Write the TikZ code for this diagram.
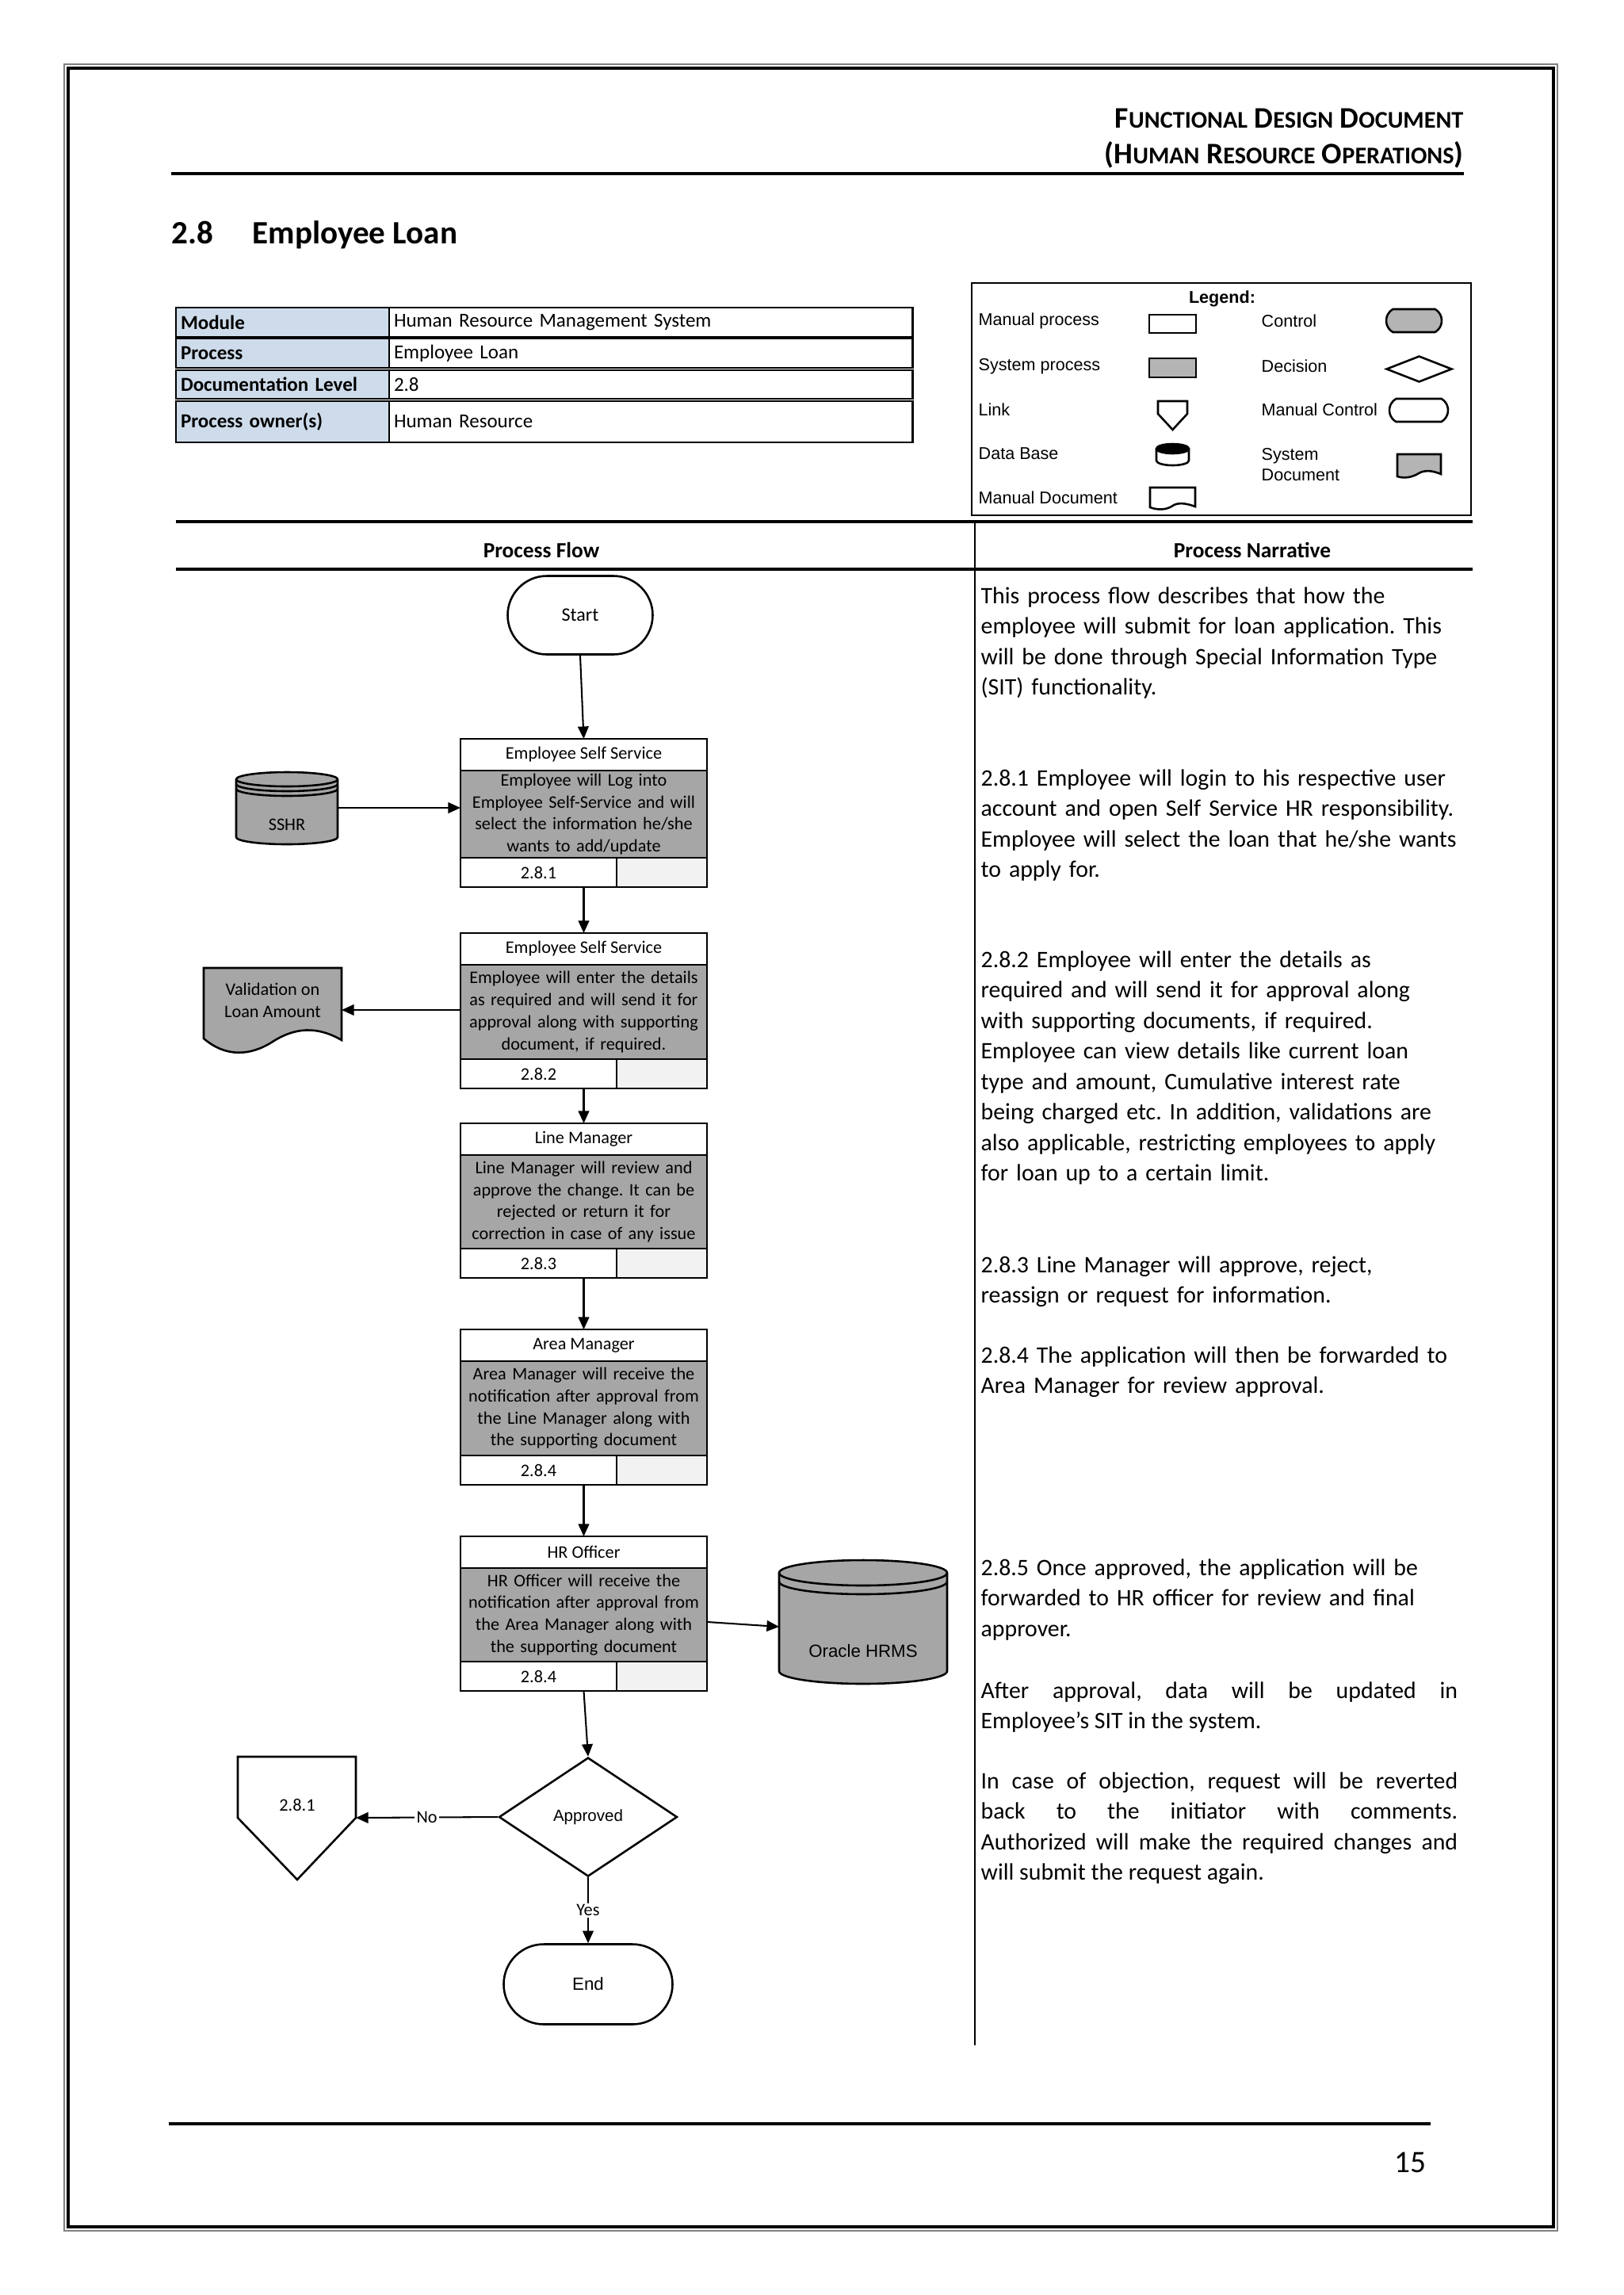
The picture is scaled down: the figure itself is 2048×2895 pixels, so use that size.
\documentclass[tikz,border=0pt]{standalone}
\usepackage{fontspec}
\setmainfont{Carlito}
\newfontfamily\arial{Liberation Sans}
\usetikzlibrary{arrows.meta,shapes.geometric,shapes.misc,calc}
\frenchspacing
\def\U{0.10259mm}
\newcommand\fsz[2]{\fontsize{#1}{#2}\selectfont}
\newcommand\smcx[1]{{\fontsize{8.8}{10}\selectfont #1}}
\definecolor{sysgray}{RGB}{166,166,166}
\definecolor{lightcell}{RGB}{242,242,242}
\definecolor{tblue}{RGB}{206,219,234}
\definecolor{leggray}{RGB}{180,180,180}
\tikzset{
  bx/.style={draw, line width=0.75pt, inner sep=0pt, outer sep=0pt, anchor=north west},
  phdr/.style={bx, fill=white, minimum width=311*\U, minimum height=40*\U, font=\fsz{6.5}{8}},
  pbody/.style={bx, fill=sysgray, minimum width=311*\U, text width=30.8mm, align=center, font=\fsz{6.5}{8.1}},
  pfootl/.style={bx, fill=white, minimum width=197*\U, minimum height=37*\U, font=\fsz{6.5}{8}},
  pfootr/.style={bx, fill=lightcell, minimum width=114*\U, minimum height=37*\U},
  arr/.style={line width=0.6pt, -{Triangle[length=1.6mm,width=1.4mm]}},
  conn/.style={line width=0.6pt},
  narr/.style={anchor=base west, inner sep=0pt, font=\fsz{8.7}{11.25}, text width=66mm, align=left},
  narrj/.style={anchor=base west, inner sep=0pt, font=\fsz{8.7}{11.25}, text width=61.7mm, align=justify},
  legtxt/.style={anchor=west, inner sep=0pt, font=\arial\fsz{6.3}{7.6}, align=left},
  tlab/.style={bx, fill=tblue, minimum width=269*\U, text width=26.4mm, align=left, inner xsep=6*\U, font=\bfseries\fsz{7.3}{8.5}},
  tval/.style={bx, fill=white, minimum width=660*\U, text width=66.5mm, align=left, inner xsep=6*\U, font=\fsz{7.3}{8.5}},
  term/.style={draw, line width=0.75pt, rounded rectangle, inner sep=0pt},
  plain/.style={inner sep=0pt, align=center},
  shp/.style={draw, line width=0.75pt},
}
\newcommand\pbox[7]{%
  \node[phdr] (#1h) at (581,#2) {#4};
  \node[pbody, minimum height=#3*\U] (#1b) at (#1h.south west) {#5};
  \node[pfootl] (#1f) at (#1b.south west) {#6};
  \node[pfootr] (#1g) at (#1f.north east) {};
}
\begin{document}
\begin{tikzpicture}[x=0.10259mm, y=-0.10259mm]
\useasboundingbox (0,0) rectangle (2048,2895);
\fill[white] (0,0) rectangle (2048,2895);

% page border
\draw[gray, line width=0.5pt] (81,81) rectangle (1965,2814);
\draw[line width=1pt] (86,86) rectangle (1960,2809);

% header
\node[anchor=base east, inner sep=0pt, font=\bfseries\fsz{11}{13}] (hd1) at (1847,161) {F\smcx{UNCTIONAL} D\smcx{ESIGN} D\smcx{OCUMENT}};
\node[anchor=base east, inner sep=0pt, font=\bfseries\fsz{11}{13}] (hd2) at (1847,206) {(H\smcx{UMAN} R\smcx{ESOURCE} O\smcx{PERATIONS})};
\draw[line width=1.45pt] (216,219) -- (1847,219);

% section title
\node[anchor=base west, inner sep=0pt, font=\bfseries\fsz{12}{14}] (secnum) at (216,307) {2.8};
\node[anchor=base west, inner sep=0pt, font=\bfseries\fsz{12}{14}] (sectitle) at (318,307) {Employee Loan};

% info table
\node[tlab, minimum height=37*\U] (t1l) at (222,388) {Module};
\node[tval, minimum height=37*\U] (t1r) at (491,388) {Human Resource Management System};
\node[tlab, minimum height=37*\U] (t2l) at (222,427) {Process};
\node[tval, minimum height=37*\U] (t2r) at (491,427) {Employee Loan};
\node[tlab, minimum height=36*\U] (t3l) at (222,467) {Documentation Level};
\node[tval, minimum height=36*\U] (t3r) at (491,467) {2.8};
\node[tlab, minimum height=52*\U] (t4l) at (222,506) {Process owner(s)};
\node[tval, minimum height=52*\U] (t4r) at (491,506) {Human Resource};

% legend
\draw[line width=0.8pt] (1226,357) rectangle (1856,650);
\node[plain, font=\arial\bfseries\fsz{6.3}{7.6}] (legt) at (1542,377) {Legend:};
\node[legtxt] (l1) at (1234,405) {Manual process};
\node[legtxt] (l2) at (1234,462) {System process};
\node[legtxt] (l3) at (1234,517) {Link};
\node[legtxt] (l4) at (1234,572) {Data Base};
\node[legtxt] (l5) at (1234,628) {Manual Document};
\node[legtxt] (r1) at (1591,405) {Control};
\node[legtxt] (r2) at (1591,462) {Decision};
\node[legtxt] (r3) at (1591,517) {Manual Control};
\node[legtxt] (r4) at (1591,586) {System\\Document};
\node[shp, inner sep=0pt, minimum width=59*\U, minimum height=23*\U] (lmp) at (1479.5,408.5) {};
\node[shp, fill=leggray, inner sep=0pt, minimum width=59*\U, minimum height=24*\U] (lsp) at (1479.5,464) {};
\draw[shp, line join=miter] (1461,506) -- (1498,506) -- (1498,522) -- (1479.5,542) -- (1461,522) -- cycle;
\draw[shp] (1459,566) -- (1459,581) arc[start angle=180, end angle=0, x radius=20.5, y radius=6] -- (1500,566);
\filldraw[line width=0.75pt, fill=black] (1479.5,566) ellipse [x radius=20.5, y radius=6];
\draw[shp, fill=white] (1451,615) -- (1508,615) -- (1508,639) .. controls (1495,634) and (1485,634) .. (1479.5,638) .. controls (1472,643) and (1462,644) .. (1451,640) -- cycle;
\node[term, fill=leggray, rounded rectangle arc length=120, minimum width=70*\U, minimum height=29*\U] (lctl) at (1784,404.5) {};
\node[draw, line width=0.75pt, diamond, inner sep=0pt, minimum width=83*\U, minimum height=33*\U] (ldec) at (1790.5,465.5) {};
\node[term, rounded rectangle arc length=120, minimum width=74*\U, minimum height=29*\U] (lmc) at (1790,517.5) {};
\draw[shp, fill=leggray] (1763,573) -- (1818,573) -- (1818,598) .. controls (1806,593) and (1797,593) .. (1790,597) .. controls (1782,602) and (1772,604) .. (1763,601) -- cycle;

% column header rules
\draw[line width=1.1pt] (222,658) -- (1858,658);
\draw[line width=1.1pt] (222,718) -- (1858,718);
\draw[line width=0.8pt] (1230,658) -- (1230,2580);
\node[plain, font=\bfseries\fsz{8}{10}] (pfh) at (683,694) {Process Flow};
\node[plain, font=\bfseries\fsz{8}{10}] (pnh) at (1580,694) {Process Narrative};

% flow
\node[term, minimum width=183*\U, minimum height=99*\U, font=\fsz{7}{8}] (st) at (732,776) {Start};

\pbox{ba}{932}{110}{Employee Self Service}{Employee will Log into\\Employee Self-Service and will\\select the information he/she\\wants to add/update}{2.8.1}{}
\pbox{bb}{1177}{119}{Employee Self Service}{Employee will enter the details\\as required and will send it for\\approval along with supporting\\document, if required.}{2.8.2}{}
\pbox{bc}{1417}{118}{Line Manager}{Line Manager will review and\\approve the change. It can be\\rejected or return it for\\correction in case of any issue}{2.8.3}{}
\pbox{bd}{1677}{119}{Area Manager}{Area Manager will receive the\\notification after approval from\\the Line Manager along with\\the supporting document}{2.8.4}{}
\pbox{be}{1938}{118}{HR Officer}{HR Officer will receive the\\notification after approval from\\the Area Manager along with\\the supporting document}{2.8.4}{}

% SSHR database
\filldraw[line width=0.75pt, fill=sysgray] (298,983) -- (298,1056) arc[start angle=180, end angle=0, x radius=64, y radius=9] -- (426,983) arc[start angle=0, end angle=-180, x radius=64, y radius=9] -- cycle;
\draw[line width=0.75pt] (298,983) arc[start angle=180, end angle=0, x radius=64, y radius=9];
\draw[line width=0.75pt] (298,989) arc[start angle=180, end angle=0, x radius=64, y radius=9];
\draw[line width=0.75pt] (298,995) arc[start angle=180, end angle=0, x radius=64, y radius=9];
\node[plain, font=\fsz{6.5}{8}] (sshr) at (362,1040) {SSHR};
\coordinate (sshrE) at (426,1019);

% validation document
\filldraw[line width=0.75pt, fill=sysgray] (257,1221) -- (431,1221) -- (431,1312) .. controls (400,1294) and (372,1296) .. (344,1314) .. controls (316,1332) and (285,1334) .. (257,1310) -- cycle;
\node[plain, font=\fsz{6.5}{8.2}] (val) at (344,1262) {Validation on\\Loan Amount};
\coordinate (valE) at (431,1274);

% Oracle HRMS database
\filldraw[line width=0.75pt, fill=sysgray] (983,1984) -- (983,2108) arc[start angle=180, end angle=0, x radius=106, y radius=16] -- (1195,1984) arc[start angle=0, end angle=-180, x radius=106, y radius=16] -- cycle;
\draw[line width=0.75pt] (983,1984) arc[start angle=180, end angle=0, x radius=106, y radius=16];
\draw[line width=0.75pt] (983,1995) arc[start angle=180, end angle=0, x radius=106, y radius=16];
\node[plain, font=\arial\fsz{6.5}{8}] (ora) at (1089,2083) {Oracle HRMS};
\coordinate (oraW) at (983,2052);

% decision, link, end
\node[draw, line width=0.75pt, diamond, inner sep=0pt, minimum width=225*\U, minimum height=150*\U, font=\arial\fsz{6}{7}] (dec) at (742,2292) {Approved};
\draw[shp, line join=miter] (300,2216) -- (449,2216) -- (449,2293) -- (375,2371) -- (300,2293) -- cycle;
\node[plain, font=\fsz{6.5}{8}] (lnk) at (375,2277) {2.8.1};
\coordinate (lnkE) at (449,2293);
\node[term, minimum width=213*\U, minimum height=101*\U, font=\arial\fsz{6.5}{8}] (en) at (742,2503) {End};

% connectors
\draw[arr] (st.south) -- (bah.north);
\draw[arr] (sshrE) -- (sshrE -| bab.west);
\draw[arr] (bah.center |- baf.south) -- (bbh.north);
\draw[arr] (bbb.west |- valE) -- (valE);
\draw[arr] (bbh.center |- bbf.south) -- (bch.north);
\draw[arr] (bch.center |- bcf.south) -- (bdh.north);
\draw[arr] (bdh.center |- bdf.south) -- (beh.north);
\draw[arr] ([yshift=-0.92mm]beb.east) -- (oraW);
\draw[arr] (beh.center |- bef.south) -- (dec.north);
\draw[arr] (dec.west) -- node[fill=white, inner sep=0.6pt, font=\fsz{6.5}{8}] (nolab) {No} (lnkE);
\draw[arr] (dec.south) -- node[fill=white, inner sep=0.6pt, font=\fsz{6.5}{8}] (yeslab) {Yes} (en.north);

% narrative
\node[narr] (p1) at (1237,761) {This process flow describes that how the\\employee will submit for loan application. This\\will be done through Special Information Type\\(SIT) functionality.};
\node[narr] (p2) at (1237,991) {2.8.1 Employee will login to his respective user\\account and open Self Service HR responsibility.\\Employee will select the loan that he/she wants\\to apply for.};
\node[narr] (p3) at (1237,1220) {2.8.2 Employee will enter the details as\\required and will send it for approval along\\with supporting documents, if required.\\Employee can view details like current loan\\type and amount, Cumulative interest rate\\being charged etc. In addition, validations are\\also applicable, restricting employees to apply\\for loan up to a certain limit.};
\node[narr] (p4) at (1237,1605) {2.8.3 Line Manager will approve, reject,\\reassign or request for information.};
\node[narr] (p5) at (1237,1719) {2.8.4 The application will then be forwarded to\\Area Manager for review approval.};
\node[narr] (p6) at (1237,1987) {2.8.5 Once approved, the application will be\\forwarded to HR officer for review and final\\approver.};
\node[narrj] (p7) at (1237,2142) {After approval, data will be updated in\linebreak Employee's SIT in the system.};
\node[narrj] (p8) at (1237,2256) {In case of objection, request will be reverted\linebreak back to the initiator with comments.\linebreak Authorized will make the required changes and\linebreak will submit the request again.};

% footer
\draw[line width=1.1pt] (213,2679) -- (1805,2679);
\node[anchor=base east, inner sep=0pt, font=\fsz{11.5}{13}] (pg) at (1800,2740) {15};
\end{tikzpicture}
\end{document}
